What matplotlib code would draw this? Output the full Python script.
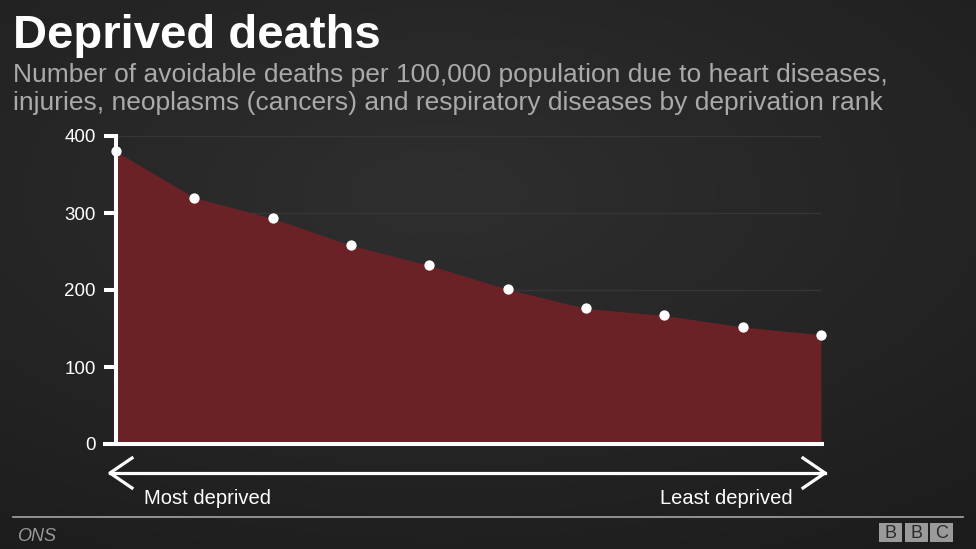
import numpy as np
import matplotlib
matplotlib.use("Agg")
import matplotlib.pyplot as plt
from matplotlib.lines import Line2D
from matplotlib.patches import Rectangle

# Data: deprivation rank (1 = most deprived) and avoidable deaths per 100,000
rank = [1, 2, 3, 4, 5, 6, 7, 8, 9, 10]
deaths = [380, 320, 293, 258, 232, 201, 176, 167, 152, 142]
y_ticks = [0, 100, 200, 300, 400]

W, H = 976, 549
plt.rcParams["font.family"] = ["Liberation Sans", "DejaVu Sans"]


def px(x, y):
    """Pixel position (from top-left) to figure fraction."""
    return x / W, 1 - y / H


fig = plt.figure(figsize=(W / 100, H / 100), dpi=100)

# background vignette
bg = fig.add_axes([0, 0, 1, 1], zorder=-10)
yy, xx = np.mgrid[0:1:200j, 0:1:360j]
r = np.sqrt(((xx - 0.45) / 0.9) ** 2 + ((yy - 0.35) / 0.8) ** 2)
r = np.clip(r, 0, 1)
c0, c1 = np.array([0x2f, 0x2f, 0x2f]) / 255, np.array([0x1c, 0x1c, 0x1c]) / 255
img = c0[None, None, :] * (1 - r[..., None]) + c1[None, None, :] * r[..., None]
bg.imshow(img, aspect="auto", extent=[0, 1, 0, 1], origin="upper")
bg.axis("off")

# main chart
x0, y_top = px(116, 136)
x1, y_bot = px(821, 444)
ax = fig.add_axes([x0, y_bot, x1 - x0, y_top - y_bot])
ax.set_facecolor("none")
ax.fill_between(rank, deaths, 0, color="#6a2226", lw=0, zorder=2)
ax.scatter(rank, deaths, s=55, color="white", zorder=4, clip_on=False, lw=0)

ax.set_xlim(1, 10)
ax.set_ylim(0, 400)
ax.set_yticks(y_ticks)
ax.set_xticks([])
for yv in y_ticks[1:]:
    ax.axhline(yv, color="#363636", lw=1, zorder=1)

for side in ["top", "right"]:
    ax.spines[side].set_visible(False)
ax.spines["left"].set_color("white")
ax.spines["left"].set_linewidth(2.9)
ax.spines["left"].set_zorder(5)
ax.spines["bottom"].set_visible(False)
ax.tick_params(axis="y", colors="white", length=8.6, width=2.9, pad=6, labelsize=13.5)

# x-axis baseline extending left to meet the tick marks
fig.add_artist(Line2D([105 / W, 822 / W], [1 - 444 / H] * 2, color="white", lw=2.9, zorder=6))

# deprivation arrow
ay = 473
fig.add_artist(Line2D([110 / W, 825 / W], [1 - ay / H] * 2, color="white", lw=2.3))
fig.add_artist(Line2D([132 / W, 110 / W, 132 / W],
                      [1 - 458 / H, 1 - ay / H, 1 - 488 / H], color="white", lw=2.3))
fig.add_artist(Line2D([803 / W, 825 / W, 803 / W],
                      [1 - 458 / H, 1 - ay / H, 1 - 488 / H], color="white", lw=2.3))
fig.text(*px(144, 504), "Most deprived", color="white", fontsize=14.5, ha="left", va="baseline")
fig.text(*px(793, 504), "Least deprived", color="white", fontsize=14.5, ha="right", va="baseline")

# titles
fig.text(*px(13, 48), "Deprived deaths", color="white", fontsize=34, fontweight="bold",
         ha="left", va="baseline")
fig.text(*px(13, 82), "Number of avoidable deaths per 100,000 population due to heart diseases,",
         color="#aaaaaa", fontsize=19, ha="left", va="baseline")
fig.text(*px(13, 110), "injuries, neoplasms (cancers) and respiratory diseases by deprivation rank",
         color="#aaaaaa", fontsize=19, ha="left", va="baseline")

# footer
fig.add_artist(Line2D([13 / W, 963 / W], [1 - 517 / H] * 2, color="#9a9a9a", lw=1.3))
fig.text(*px(17, 541), "ONS", color="#9a9a9a", fontsize=13, style="italic",
         ha="left", va="baseline")
for i, letter in enumerate("BBC"):
    bx = 879 + i * 25.5
    fig.add_artist(Rectangle(px(bx, 542), 23 / W, 19 / H, transform=fig.transFigure,
                             color="#9a9a9a", lw=0))
    fig.text(*px(bx + 11.5, 533), letter, color="#2a2a2a", fontsize=13,
             ha="center", va="center")

fig.savefig("out.png", dpi=100, facecolor="#222222")
